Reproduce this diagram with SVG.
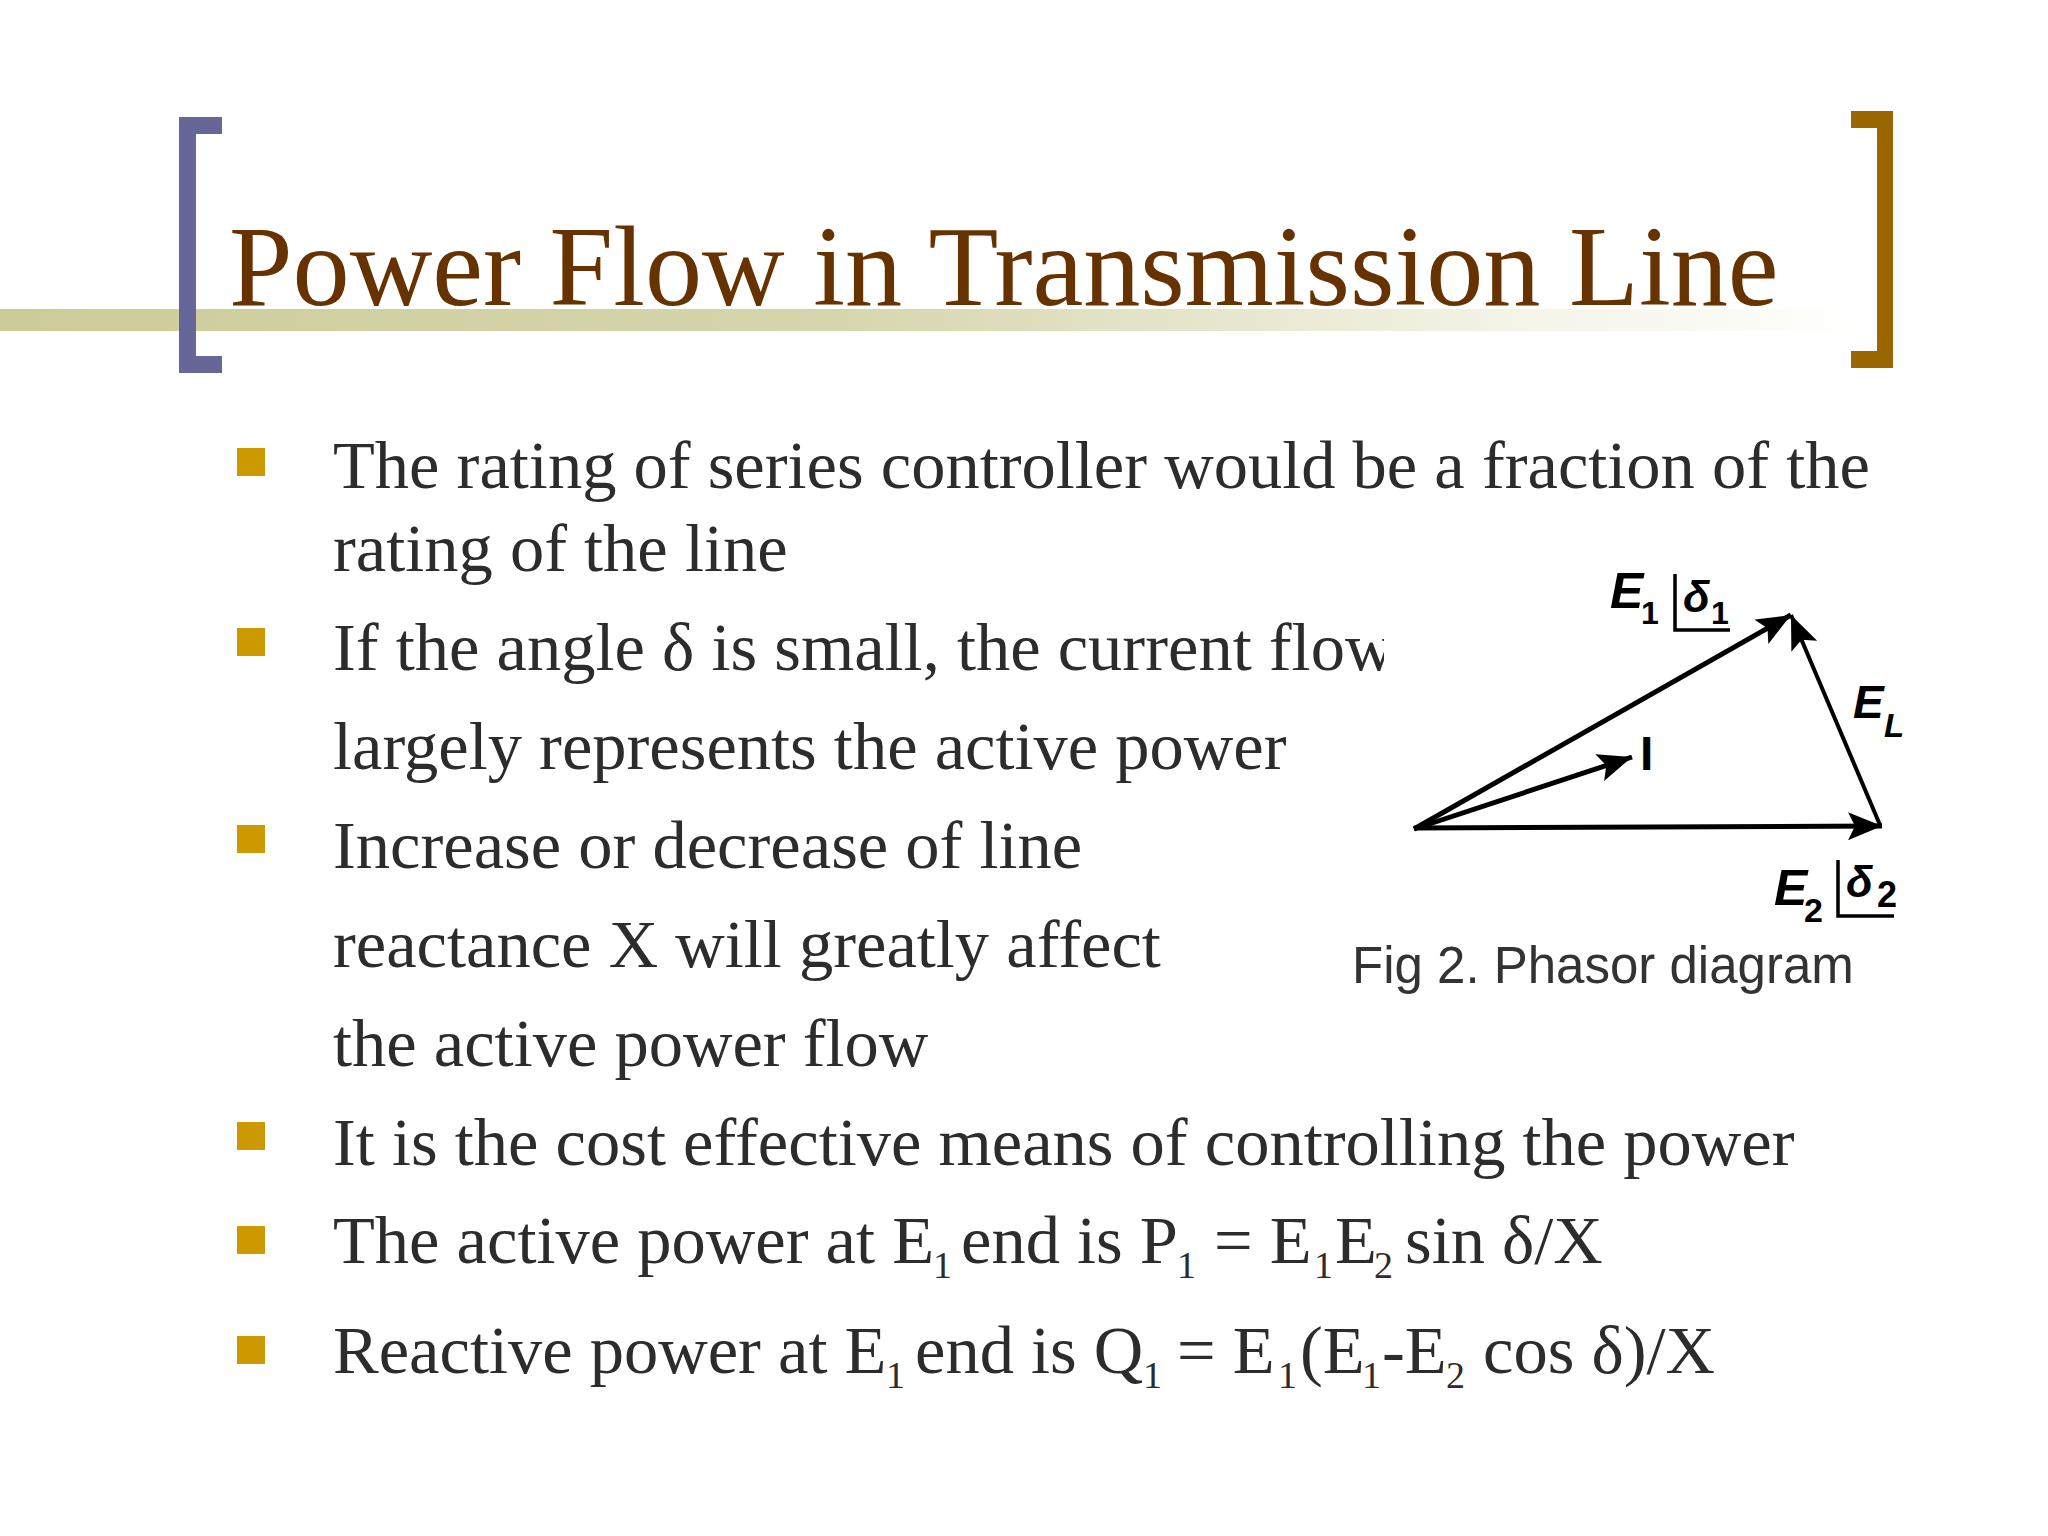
<svg xmlns="http://www.w3.org/2000/svg" width="2048" height="1536" viewBox="0 0 2048 1536">
<style>
.t{font-family:"Liberation Serif","Times New Roman",serif;font-size:68.5px;fill:#2c2c2e}
.s{font-size:38px}
.h{font-family:"Liberation Serif",serif;font-size:114.3px;fill:#663300}
.b{fill:#cc9900}
.l{font-family:"Liberation Sans",Arial,sans-serif;font-weight:bold;fill:#000}
.i{font-style:italic}
.c{stroke:#000;fill:none}
</style>
<defs>
<linearGradient id="band" x1="0" x2="1" y1="0" y2="0">
<stop offset="0" stop-color="#cccc99"/><stop offset="0.45" stop-color="#d6d6ae"/><stop offset="0.8" stop-color="#f3f3e6"/><stop offset="1" stop-color="#ffffff"/>
</linearGradient>
<marker id="ah" markerUnits="userSpaceOnUse" markerWidth="50" markerHeight="40" refX="34" refY="14" orient="auto">
<path d="M0 0L34 14L0 28L7 14Z" fill="#000"/>
</marker>
</defs>
<rect width="2048" height="1536" fill="#ffffff"/>
<rect id="band-rect" x="0" y="309" width="1870" height="22" fill="url(#band)"/>
<path id="bracket-left" d="M179 117H222V134H196V356H222V373H179Z" fill="#666699"/>
<path id="bracket-right" d="M1851 111H1893V368H1851V351H1877V128H1851Z" fill="#996600"/>
<text id="title" class="h" x="229" y="305">Power Flow in Transmission Line</text>
<g id="bullets">
<rect class="b" x="237" y="448" width="28" height="28"/>
<rect class="b" x="237" y="628" width="28" height="28"/>
<rect class="b" x="237" y="825" width="28" height="28"/>
<rect class="b" x="237" y="1122" width="28" height="28"/>
<rect class="b" x="237" y="1226" width="28" height="28"/>
<rect class="b" x="237" y="1336" width="28" height="28"/>
</g>
<g id="body">
<text class="t" x="333" y="488">The rating of series controller would be a fraction of the</text>
<text class="t" x="333" y="571">rating of the line</text>
<text class="t" x="333" y="670">If the angle δ is small, the current flow</text>
<text class="t" x="333" y="769">largely represents the active power</text>
<text class="t" x="333" y="868">Increase or decrease of line</text>
<text class="t" x="333" y="967">reactance X will greatly affect</text>
<text class="t" x="333" y="1066">the active power flow</text>
<text class="t" x="333" y="1165">It is the cost effective means of controlling the power</text>
<text class="t" x="333" y="1263">The active power at E<tspan class="s" x="933" dy="15">1</tspan><tspan x="961" dy="-15">end is P</tspan><tspan class="s" x="1177" dy="15">1</tspan><tspan x="1214" dy="-15">= E</tspan><tspan class="s" x="1314" dy="15">1</tspan><tspan x="1335" dy="-15">E</tspan><tspan class="s" x="1374" dy="15">2</tspan><tspan x="1405" dy="-15">sin δ/X</tspan></text>
<text class="t" x="333" y="1373">Reactive power at E<tspan class="s" x="886" dy="15">1</tspan><tspan x="915" dy="-15">end is Q</tspan><tspan class="s" x="1143" dy="15">1</tspan><tspan x="1177" dy="-15">= E</tspan><tspan class="s" x="1278" dy="15">1</tspan><tspan x="1300" dy="-15">(E</tspan><tspan class="s" x="1362" dy="15">1</tspan><tspan x="1382" dy="-15">-E</tspan><tspan class="s" x="1446" dy="15">2</tspan><tspan x="1483" dy="-15">cos δ)/X</tspan></text>
</g>
<rect id="figure-mask" x="1384" y="590" width="500" height="120" fill="#ffffff"/>
<g id="connectors">
<line class="c" x1="1414" y1="829" x2="1791" y2="615" stroke-width="5" marker-end="url(#ah)"/>
<line class="c" x1="1414" y1="829" x2="1632" y2="757" stroke-width="5" marker-end="url(#ah)"/>
<line class="c" x1="1414" y1="828" x2="1882" y2="826" stroke-width="5" marker-end="url(#ah)"/>
<line class="c" x1="1880" y1="825" x2="1791" y2="615" stroke-width="4" marker-end="url(#ah)"/>
</g>
<g id="label-e1">
<text class="l i" x="1610" y="608" font-size="50">E</text>
<text class="l" x="1641" y="624" font-size="32">1</text>
<path class="c" stroke-width="3.5" d="M1675 574V630H1730"/>
<text class="l i" x="1683" y="612" font-size="44">δ</text>
<text class="l" x="1711" y="624" font-size="32">1</text>
</g>
<g id="label-el">
<text class="l i" x="1853" y="718" font-size="46">E</text>
<text class="l i" x="1884" y="737" font-size="33">L</text>
</g>
<g id="label-i"><text class="l" x="1640" y="770" font-size="48">I</text></g>
<g id="label-e2">
<text class="l i" x="1774" y="905" font-size="50">E</text>
<text class="l" x="1804" y="922" font-size="34">2</text>
<path class="c" stroke-width="3.5" d="M1838 860V916H1894"/>
<text class="l i" x="1846" y="897" font-size="44">δ</text>
<text class="l" x="1877" y="907" font-size="36">2</text>
</g>
<text id="caption" x="1352" y="983" font-family="Liberation Sans,Arial,sans-serif" font-size="51" fill="#333333">Fig 2. Phasor diagram</text>
</svg>
